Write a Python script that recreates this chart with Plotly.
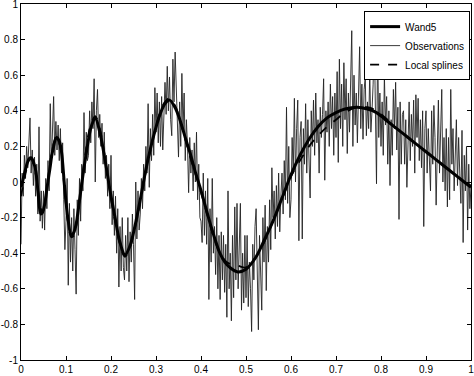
import plotly.graph_objects as go

# ---- data ----
curve_x = [0.000, 0.006, 0.012, 0.018, 0.023, 0.028, 0.033, 0.038, 0.044, 0.048,
           0.053, 0.058, 0.064, 0.070, 0.079, 0.085, 0.090, 0.097, 0.104, 0.112,
           0.118, 0.123, 0.128, 0.134, 0.140, 0.145, 0.150, 0.156, 0.165, 0.175,
           0.187, 0.198, 0.209, 0.220, 0.231, 0.242, 0.253, 0.265, 0.276, 0.287,
           0.298, 0.309, 0.320, 0.330, 0.342, 0.353, 0.365, 0.376, 0.387, 0.398,
           0.409, 0.420, 0.431, 0.442, 0.453, 0.464, 0.482, 0.500, 0.520, 0.540,
           0.560, 0.580, 0.600, 0.620, 0.640, 0.660, 0.680, 0.700, 0.720, 0.747,
           0.770, 0.790, 0.810, 0.830, 0.850, 0.870, 0.890, 0.910, 0.930, 0.950,
           0.970, 0.985, 1.000]

wand5_y = [-0.03, 0.03, 0.09, 0.13, 0.135, 0.11, 0.06, -0.06, -0.18, -0.17,
           -0.12, -0.03, 0.07, 0.17, 0.25, 0.23, 0.17, -0.03, -0.20, -0.30,
           -0.28, -0.23, -0.14, -0.03, 0.08, 0.16, 0.24, 0.31, 0.36, 0.28,
           0.12, -0.05, -0.20, -0.34, -0.41, -0.36, -0.25, -0.10, 0.05, 0.18,
           0.29, 0.38, 0.44, 0.46, 0.42, 0.35, 0.25, 0.16, 0.06, -0.03,
           -0.13, -0.23, -0.32, -0.40, -0.45, -0.48, -0.505, -0.49, -0.43, -0.33,
           -0.22, -0.09, 0.04, 0.15, 0.24, 0.31, 0.36, 0.39, 0.41, 0.42,
           0.41, 0.39, 0.35, 0.31, 0.27, 0.23, 0.19, 0.15, 0.11, 0.07,
           0.03, 0.00, -0.03]

splines_y = [-0.08, 0.00, 0.07, 0.12, 0.13, 0.10, 0.04, -0.05, -0.15, -0.17,
             -0.12, -0.02, 0.09, 0.19, 0.26, 0.22, 0.15, -0.05, -0.22, -0.31,
             -0.30, -0.24, -0.15, -0.02, 0.10, 0.19, 0.27, 0.33, 0.37, 0.30,
             0.13, -0.06, -0.22, -0.35, -0.42, -0.37, -0.26, -0.11, 0.04, 0.17,
             0.29, 0.39, 0.45, 0.47, 0.43, 0.35, 0.24, 0.14, 0.05, -0.04,
             -0.14, -0.24, -0.33, -0.40, -0.44, -0.46, -0.47, -0.48, -0.43, -0.34,
             -0.22, -0.10, 0.03, 0.12, 0.20, 0.26, 0.31, 0.35, 0.39, 0.42,
             0.42, 0.40, 0.36, 0.31, 0.27, 0.23, 0.19, 0.15, 0.11, 0.07,
             0.03, 0.00, -0.02]

observations_y = [
    -0.35, 0.05, -0.08, 0.15, 0.02, 0.20, 0.08, 0.25, 0.36, 0.05, 0.18, -0.02, 0.14, -0.08, 0.10, -0.18, 0.31, -0.22, -0.05, -0.26,
    -0.05, -0.27, 0.02, -0.15, 0.12, -0.05, 0.44, 0.10, 0.30, 0.48, 0.15, 0.34, 0.18, 0.32, 0.12, 0.30, 0.05, 0.22, -0.10, -0.38,
    -0.22, 0.02, -0.58, -0.12, -0.45, -0.20, -0.50, -0.15, -0.38, -0.63, -0.10, -0.30, 0.02, -0.22, 0.10, -0.05, 0.39, 0.05, 0.28, 0.12,
    0.15, 0.40, 0.22, 0.45, 0.30, 0.58, 0.00, 0.40, 0.52, 0.25, 0.38, 0.20, 0.33, 0.10, 0.28, 0.02, 0.15, -0.08, 0.10, -0.15,
    0.15, -0.24, -0.05, -0.30, -0.08, -0.40, -0.15, -0.59, -0.25, -0.50, -0.20, -0.48, -0.55, -0.30, -0.50, -0.20, -0.56, -0.28, -0.45, -0.18,
    -0.35, -0.66, 0.00, -0.32, -0.05, -0.27, -0.18, 0.02, -0.15, 0.10, -0.05, 0.20, 0.05, 0.44, -0.03, 0.30, 0.12, 0.38, 0.15, 0.53,
    0.28, 0.50, 0.22, 0.45, 0.20, 0.48, 0.18, 0.42, 0.56, 0.38, 0.65, 0.40, 0.59, 0.35, 0.26, 0.69, 0.45, 0.73, 0.50, 0.30,
    0.14, 0.45, 0.20, 0.61, 0.30, 0.50, 0.12, 0.35, 0.20, -0.06, 0.25, 0.05, 0.18, -0.05, 0.22, 0.00, 0.28, -0.10, 0.10, -0.20,
    -0.22, -0.34, 0.05, -0.30, -0.05, -0.35, 0.02, -0.66, -0.15, -0.45, 0.02, -0.40, -0.25, -0.52, -0.20, -0.60, -0.30, -0.66, -0.28, -0.55,
    -0.30, -0.62, -0.35, -0.76, -0.05, -0.60, -0.40, -0.78, -0.30, -0.65, -0.14, -0.55, -0.12, -0.60, -0.35, -0.12, -0.72, -0.40, -0.68, -0.30,
    -0.65, -0.30, -0.70, -0.45, -0.60, -0.84, -0.35, -0.55, -0.25, -0.15, -0.50, -0.83, -0.30, -0.55, -0.72, -0.20, -0.45, -0.13, -0.61, -0.25,
    -0.45, -0.10, -0.38, 0.08, -0.20, -0.05, -0.32, -0.02, -0.25, 0.05, -0.28, -0.08, 0.05, -0.18, 0.12, -0.10, 0.42, -0.12, 0.20, -0.20,
    -0.10, 0.25, 0.05, 0.47, 0.00, 0.30, 0.46, -0.33, 0.25, 0.34, -0.32, 0.30, 0.10, 0.44, 0.05, 0.35, 0.15, -0.09, 0.40, 0.20,
    0.46, 0.15, 0.50, 0.22, 0.35, 0.05, 0.42, 0.25, 0.38, 0.58, 0.01, 0.40, 0.28, 0.45, 0.20, 0.55, 0.30, 0.48, 0.15, 0.50,
    0.25, 0.62, 0.11, 0.69, 0.30, 0.55, 0.20, 0.67, 0.35, 0.58, 0.16, 0.50, 0.28, 0.62, 0.85, 0.20, 0.60, 0.32, 0.50, 0.22,
    0.58, 0.76, 0.30, 0.55, 0.24, 0.52, 0.59, 0.26, 0.45, 0.30, 0.62, 0.28, 0.40, 0.55, 0.84, 0.35, -0.01, 0.80, 0.25, 0.50,
    0.20, 0.45, 0.15, 0.60, 0.32, 0.48, 0.10, 0.40, -0.02, 0.35, 0.15, 0.52, 0.30, 0.56, 0.18, 0.42, -0.21, 0.45, 0.10, 0.38,
    0.40, 0.10, 0.35, -0.03, 0.30, 0.45, 0.12, 0.38, 0.20, 0.46, 0.05, 0.49, 0.25, 0.47, 0.12, 0.35, 0.08, 0.40, -0.25, 0.30,
    0.40, 0.05, 0.30, 0.15, -0.05, 0.40, 0.10, 0.43, 0.25, -0.13, 0.30, 0.46, 0.05, 0.35, 0.52, 0.00, 0.25, -0.05, 0.30, -0.14,
    0.25, -0.10, 0.52, 0.10, 0.30, -0.05, 0.20, 0.35, -0.02, 0.25, 0.05, -0.12, 0.29, -0.34, 0.15, -0.05, 0.20, -0.27, 0.10, -0.15,
    -0.02,
]
observations_x = [i / 400 for i in range(len(observations_y))]

x_ticks = [0, 0.1, 0.2, 0.3, 0.4, 0.5, 0.6, 0.7, 0.8, 0.9, 1]
x_labels = ["0", "0.1", "0.2", "0.3", "0.4", "0.5", "0.6", "0.7", "0.8", "0.9", "1"]
y_ticks = [-1, -0.8, -0.6, -0.4, -0.2, 0, 0.2, 0.4, 0.6, 0.8, 1]
y_labels = ["-1", "-0.8", "-0.6", "-0.4", "-0.2", "0", "0.2", "0.4", "0.6", "0.8", "1"]

# ---- figure ----
fig = go.Figure()
fig.add_trace(go.Scatter(x=observations_x, y=observations_y, mode="lines",
                         name="Observations", legendrank=2,
                         line=dict(color="#222222", width=0.9)))
fig.add_trace(go.Scatter(x=curve_x, y=wand5_y, mode="lines", name="Wand5",
                         legendrank=1,
                         line=dict(color="black", width=3, shape="spline")))
fig.add_trace(go.Scatter(x=curve_x, y=splines_y, mode="lines",
                         name="Local splines", legendrank=3,
                         line=dict(color="black", width=1.8, dash="dash",
                                   shape="spline")))

axis_common = dict(showgrid=False, zeroline=False, showline=True,
                   linecolor="black", linewidth=1, mirror="ticks",
                   ticks="inside", ticklen=4, tickwidth=1, tickcolor="black",
                   automargin=False, ticklabeloverflow="allow",
                   tickfont=dict(family="Liberation Sans, Arial", size=10,
                                 color="black"))

fig.update_layout(
    width=474, height=376,
    margin=dict(l=21, r=3, t=4, b=16),
    paper_bgcolor="white", plot_bgcolor="white",
    xaxis=dict(range=[0, 1], tickvals=x_ticks, ticktext=x_labels, **axis_common),
    yaxis=dict(range=[-1, 1], tickvals=y_ticks, ticktext=y_labels, **axis_common),
    legend=dict(x=0.998, y=0.98, xanchor="right", yanchor="top",
                bgcolor="white", bordercolor="black", borderwidth=1,
                font=dict(family="Liberation Sans, Arial", size=10, color="black"),
                tracegroupgap=0, itemwidth=30),
    showlegend=True,
)

fig.write_html("out.html",
               config={"displayModeBar": False},
               post_script="document.body.style.margin='0';"
                           "document.body.style.padding='0';")
